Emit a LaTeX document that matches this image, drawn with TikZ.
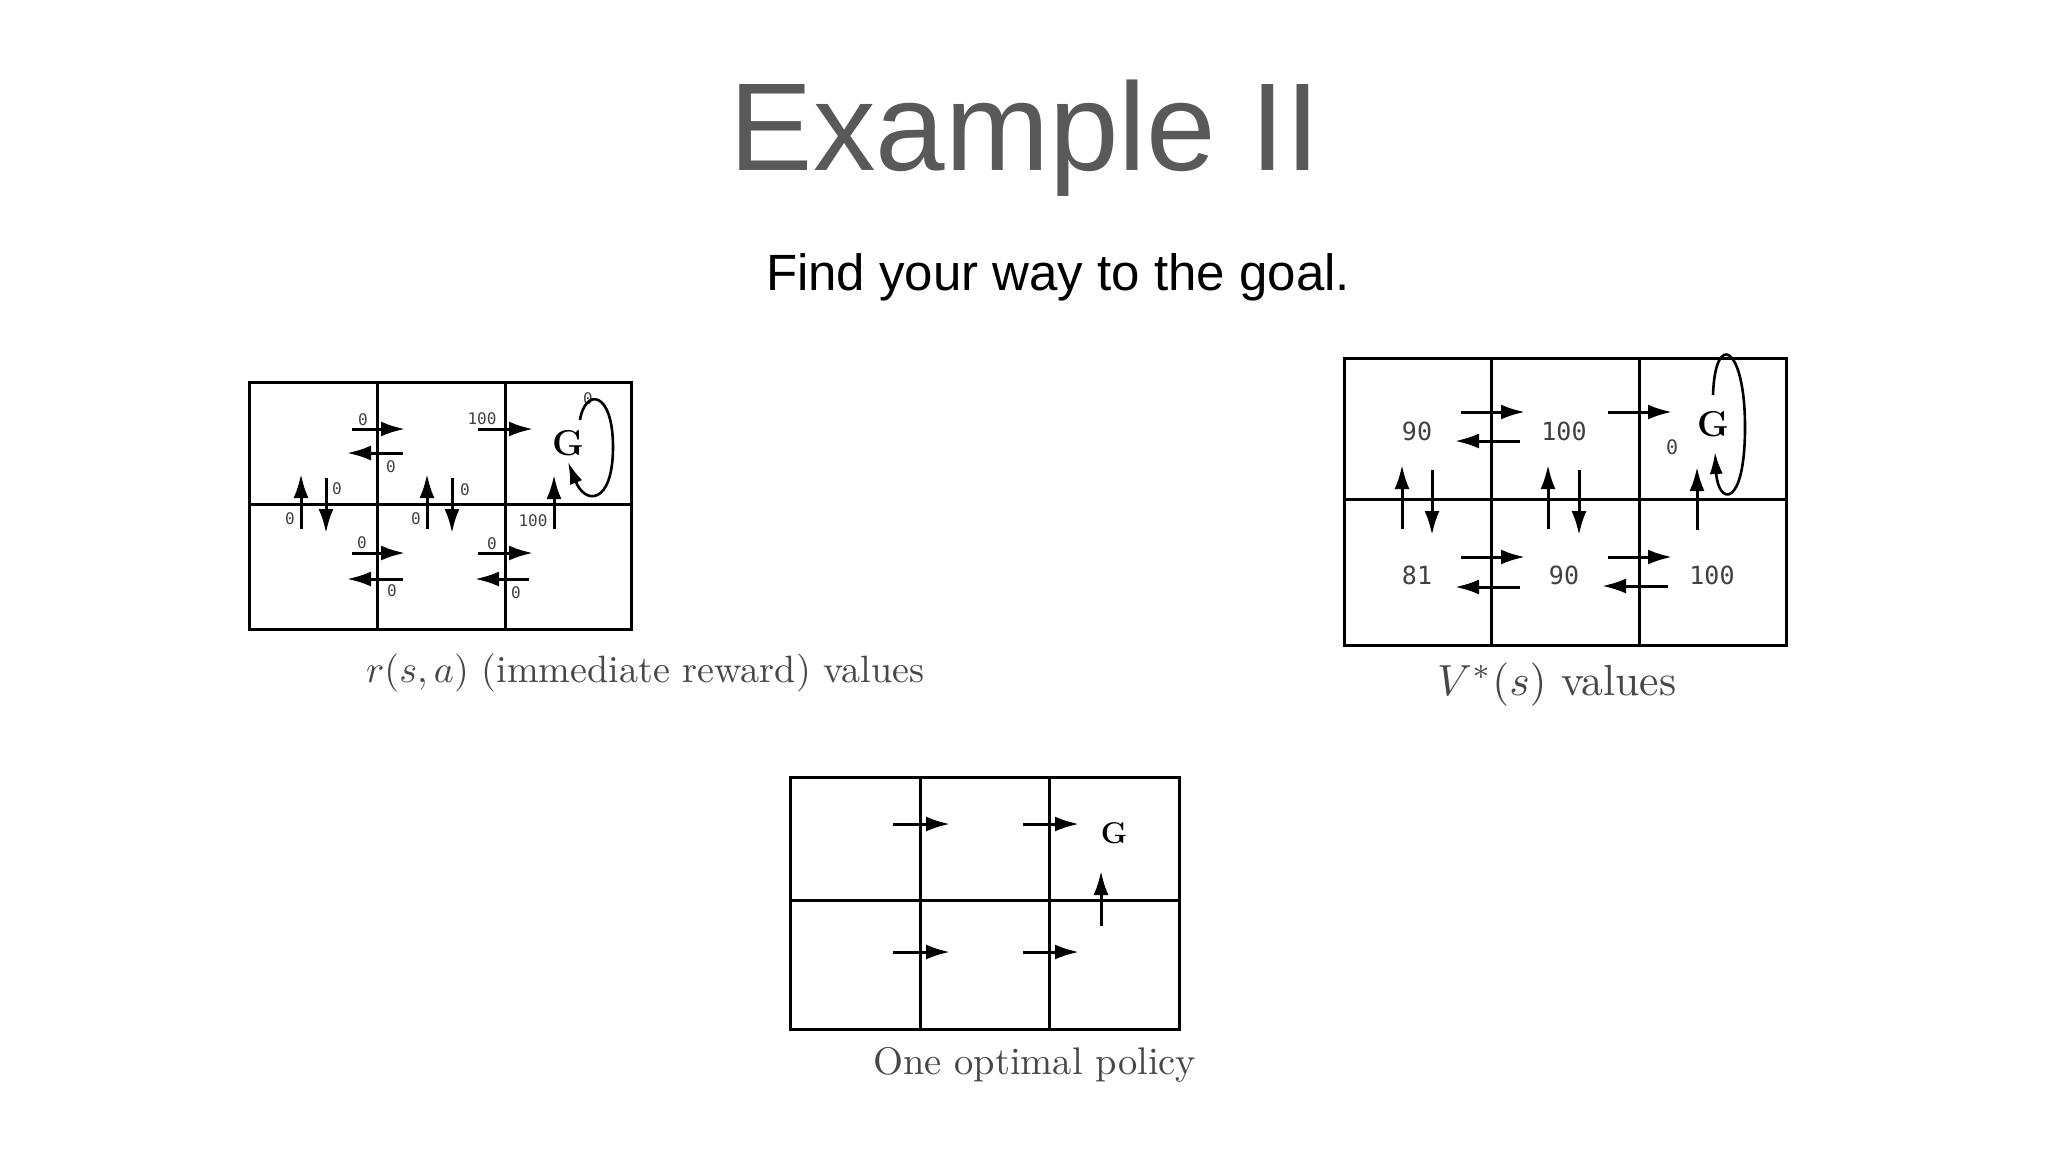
\documentclass[tikz,border=0pt]{standalone}
\usepackage{fontspec}
\usepackage{graphicx}
\setmainfont{Liberation Sans}
\newfontfamily\monof{DejaVu Sans Mono}
\newfontfamily\lmr{Latin Modern Roman}
\usetikzlibrary{arrows.meta}
\begin{document}
\begin{tikzpicture}[x=1pt,y=-1pt,
  gridln/.style={line width=3pt},
  arr/.style={line width=3pt,-{Latex[length=24pt,width=15pt]}},
  sml/.style={font=\monof\fontsize{16}{16}\selectfont,text=black!75,inner sep=0pt},
  big/.style={font=\monof\fontsize{25}{25}\selectfont,text=black!75,inner sep=0pt},
  goal/.style={font=\lmr\bfseries\fontsize{36}{36}\selectfont,inner sep=0pt},
  captxt/.style={text=black!72,inner sep=0pt,anchor=base west}]
\useasboundingbox (0,0) rectangle (2048,1152);
\node[text=black!65,font=\fontsize{125}{125}\selectfont,anchor=base] (title) at (1025,170) {Example II};
\node[font=\fontsize{51}{51}\selectfont,anchor=base] (sub) at (1058,290) {Find your way to the goal.};
% left grid
\draw[gridln] (249,382) rectangle (631,629);
\draw[gridln] (377,382) -- (377,629) (505,382) -- (505,629) (249,504) -- (631,504);
\draw[arr] (352,429) -- (405,429); \draw[arr] (403,453) -- (347,453);
\draw[arr] (478,429) -- (533,429);
\draw[arr] (352,553) -- (405,553); \draw[arr] (403,579) -- (347,579);
\draw[arr] (478,553) -- (533,553); \draw[arr] (529,579) -- (475,579);
\draw[arr] (301,529) -- (301,474); \draw[arr] (326,478) -- (326,533);
\draw[arr] (427,529) -- (427,474); \draw[arr] (452,478) -- (452,533);
\draw[arr] (554,529) -- (554,475);
\node[sml] (l1) at (363,420) {0}; \node[sml] (l2) at (391,467) {0};
\node[sml] (l3) at (482,419) {100};
\node[sml] (l4) at (362,543) {0}; \node[sml] (l5) at (392,591) {0};
\node[sml] (l6) at (492,544) {0}; \node[sml] (l7) at (516,593) {0};
\node[sml] (l8) at (337,489) {0}; \node[sml] (l9) at (290,519) {0};
\node[sml] (l10) at (465,490) {0}; \node[sml] (l11) at (416,519) {0};
\node[sml] (l12) at (533,521) {100}; \node[sml] (l13) at (588,399) {0};
\node[goal] (g1) at (568,443) {G};
\draw[line width=2.6pt,-{Latex[length=22pt,width=13pt]}] (580,420) .. controls (585,388) and (613,390) .. (613,447) .. controls (613,505) and (585,505) .. (568,462);
\node[captxt] (c1) at (366,682) {\resizebox{558pt}{!}{\lmr $r(s,a)$ (immediate reward) values}};
% right grid
\draw[gridln] (1344,358) rectangle (1786,645);
\draw[gridln] (1491,358) -- (1491,645) (1639,358) -- (1639,645) (1344,499) -- (1786,499);
\draw[arr] (1461,412) -- (1525,412); \draw[arr] (1520,441) -- (1455,441);
\draw[arr] (1608,412) -- (1672,412);
\draw[arr] (1461,557) -- (1525,557); \draw[arr] (1520,587) -- (1455,587);
\draw[arr] (1608,557) -- (1672,557); \draw[arr] (1668,586) -- (1602,586);
\draw[arr] (1402,529) -- (1402,465); \draw[arr] (1432,470) -- (1432,535);
\draw[arr] (1548,529) -- (1548,465); \draw[arr] (1579,470) -- (1579,535);
\draw[arr] (1697,530) -- (1697,467);
\node[big] (v1) at (1417,431) {90}; \node[big] (v2) at (1564,431) {100};
\node[sml,font=\monof\fontsize{20}{20}\selectfont] (v3) at (1672,447) {0};
\node[big] (v4) at (1417,575) {81}; \node[big] (v5) at (1564,575) {90};
\node[big] (v6) at (1712,575) {100};
\node[goal] (g2) at (1713,424) {G};
\draw[line width=2.6pt,-{Latex[length=22pt,width=13pt]}] (1713,395) .. controls (1715,330) and (1745,345) .. (1745,427) .. controls (1745,510) and (1718,505) .. (1715,452);
\node[captxt] (c2) at (1437,695) {\resizebox{239pt}{!}{\lmr $V^*(s)$ values}};
% bottom grid
\draw[gridln] (790,777) rectangle (1179,1029);
\draw[gridln] (920,777) -- (920,1029) (1049,777) -- (1049,1029) (790,900) -- (1179,900);
\draw[arr] (893,824) -- (950,824); \draw[arr] (1023,824) -- (1079,824);
\draw[arr] (893,952) -- (950,952); \draw[arr] (1023,952) -- (1079,952);
\draw[arr] (1101,926) -- (1101,871);
\node[goal,font=\lmr\bfseries\fontsize{30}{30}\selectfont] (g3) at (1114,833) {G};
\node[captxt] (c3) at (873,1074) {\resizebox{323pt}{!}{\lmr One optimal policy}};
\end{tikzpicture}
\end{document}
